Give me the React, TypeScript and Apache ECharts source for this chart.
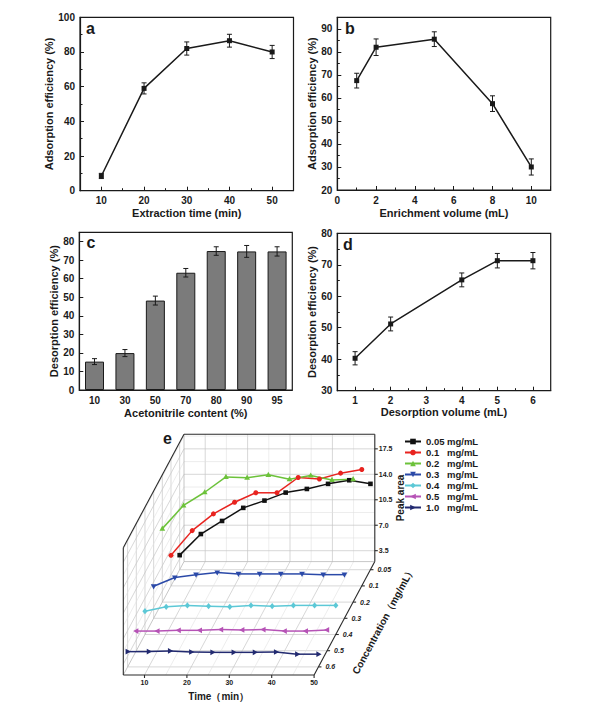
import React, { useEffect, useRef } from 'react';
import * as echarts from 'echarts';

const FONT = '"Liberation Sans", Arial, Helvetica, sans-serif';
const INK = '#1a1a1a';

// a: adsorption vs extraction time
const timeA = [10, 20, 30, 40, 50];
const adsA = [8.5, 59, 82, 86.5, 80];
const errA = [1.5, 3.2, 3.8, 3.7, 3.8];
const ticksA = [10, 20, 30, 40, 50];
const minorA = [15, 25, 35, 45];

// b: adsorption vs enrichment volume
const volB = [1, 2, 5, 8, 10];
const adsB = [67.5, 82, 85.5, 57.5, 30];
const errB = [3.2, 3.6, 3.2, 3.4, 3.5];

// c: desorption vs acetonitrile content
const acnC = ['10', '30', '50', '70', '80', '90', '95'];
const desC = [15.3, 19.9, 48.2, 63.2, 74.9, 74.7, 74.7];
const errC = [1.6, 1.9, 2.4, 2.3, 2.3, 3.2, 2.5];

// d: desorption vs desorption volume
const volD = [1, 2, 4, 5, 6];
const desD = [40.3, 51.2, 65.2, 71.3, 71.3];
const errD = [2.1, 2.2, 2.2, 2.3, 2.6];
const ticksD = [1, 2, 3, 4, 5, 6];
const minorD = [1.5, 2.5, 3.5, 4.5, 5.5];

// e: peak area vs time, one trace per concentration
const timeE = [5, 10, 15, 20, 25, 30, 35, 40, 45, 50];
const concTicks = ['0.05', '0.1', '0.2', '0.3', '0.4', '0.5', '0.6'];
const concNames = ['0.05', '0.1', '0.2', '0.3', '0.4', '0.5', '1.0'];
const peak005 = [4.0, 6.9, 8.7, 10.5, 11.5, 12.6, 13.1, 13.8, 14.3, 13.8];
const peak01 = [6.2, 9.6, 11.9, 13.5, 14.8, 14.8, 16.9, 16.7, 17.5, 18.0];
const peak02 = [12.1, 15.3, 17.1, 19.2, 19.1, 19.5, 18.9, 19.4, 18.8, 18.9];
const peak03 = [6.4, 7.6, 8.0, 8.3, 8.1, 8.1, 8.1, 8.1, 8.0, 8.0];
const peak04 = [5.2, 5.8, 6.0, 5.9, 5.8, 6.0, 5.9, 6.0, 6.0, 6.0];
const peak05 = [4.7, 4.7, 4.8, 4.8, 4.9, 4.85, 4.9, 4.7, 4.7, 4.85];
const peak10 = [4.1, 4.1, 4.2, 4.05, 4.0, 4.0, 4.0, 4.05, 3.75, 3.75];
const peakTicks = [3.5, 7.0, 10.5, 14.0, 17.5];
const timeTicksE = [10, 20, 30, 40, 50];

const peaksE = [peak005, peak01, peak02, peak03, peak04, peak05, peak10];
const colorsE = ['#111111', '#e8231f', '#6cc23a', '#2a49a8', '#5cc8d6', '#b653b6', '#222a70'];
const shapesE = ['square', 'circle', 'up', 'down', 'diamond', 'left', 'right'];
const legendSymbols = ['rect', 'circle', 'triangle', 'triangle', 'diamond', 'triangle', 'triangle'];
const legendRotate = [0, 0, 0, 180, 0, 90, -90];

// pseudo-3D box: front plane is a hidden grid, depth is a fixed screen offset
const E_TMIN = 5;
const E_TMAX = 50;
const E_ZMIN = 2;
const E_ZMAX = 19.5;
const DEPTH = [60.7, -113.4];
const depthOf = (k: number) => (concTicks.length - 0.5 - k) / concTicks.length;

const project = (api: any, t: number, z: number, f: number) => {
  const p = api.coord([t, z]);
  return [p[0] + DEPTH[0] * f, p[1] + DEPTH[1] * f];
};

const seg = (a: number[], b: number[], style: any) => ({
  type: 'line',
  silent: true,
  shape: { x1: a[0], y1: a[1], x2: b[0], y2: b[1] },
  style,
});

const txt = (x: number, y: number, text: string, o: any = {}) => ({
  type: 'text',
  x,
  y,
  rotation: o.rotation || 0,
  silent: true,
  style: {
    text,
    fill: INK,
    fontFamily: FONT,
    fontSize: o.size || 7,
    fontWeight: o.weight || 'bold',
    fontStyle: o.italic ? 'italic' : 'normal',
    align: o.align || 'center',
    verticalAlign: o.vAlign || 'middle',
  },
});

const marker = (shape: string, p: number[], color: string) => {
  const [x, y] = p;
  const s = 2.6;
  const poly = (pts: number[][]) => ({ type: 'polygon', z2: 10, shape: { points: pts }, style: { fill: color } });
  switch (shape) {
    case 'square':
      return { type: 'rect', z2: 10, shape: { x: x - 2.3, y: y - 2.3, width: 4.6, height: 4.6 }, style: { fill: color } };
    case 'circle':
      return { type: 'circle', z2: 10, shape: { cx: x, cy: y, r: 2.5 }, style: { fill: color } };
    case 'up':
      return poly([[x, y - s * 1.2], [x - s * 1.1, y + s * 0.8], [x + s * 1.1, y + s * 0.8]]);
    case 'down':
      return poly([[x, y + s * 1.2], [x - s * 1.1, y - s * 0.8], [x + s * 1.1, y - s * 0.8]]);
    case 'diamond':
      return poly([[x, y - s * 1.2], [x + s, y], [x, y + s * 1.2], [x - s, y]]);
    case 'left':
      return poly([[x - s * 1.2, y], [x + s * 0.8, y - s * 1.1], [x + s * 0.8, y + s * 1.1]]);
    default:
      return poly([[x + s * 1.2, y], [x - s * 0.8, y - s * 1.1], [x - s * 0.8, y + s * 1.1]]);
  }
};

const renderBox = (_params: any, api: any) => {
  const P = (t: number, z: number, f: number) => project(api, t, z, f);
  const els: any[] = [];
  const major = { stroke: '#c6c6c6', lineWidth: 0.7 };
  const minor = { stroke: '#e0e0e0', lineWidth: 0.6 };
  const light = { stroke: '#b8b8b8', lineWidth: 0.8 };
  const edge = { stroke: '#2a2a2a', lineWidth: 1.1 };

  const tLines = timeE.filter((t) => t > E_TMIN && t < E_TMAX);
  const zMinor = peakTicks.map((z) => z + 1.75).filter((z) => z < E_ZMAX);
  const zLines = [...zMinor.map((z) => [z, 0]), ...peakTicks.map((z) => [z, 1])];
  const tStyle = (t: number) => (timeTicksE.includes(t) ? major : minor);

  // back wall
  tLines.forEach((t) => els.push(seg(P(t, E_ZMIN, 1), P(t, E_ZMAX, 1), tStyle(t))));
  zLines.forEach(([z, m]) => els.push(seg(P(E_TMIN, z, 1), P(E_TMAX, z, 1), m ? major : minor)));
  // left wall
  concTicks.forEach((_, k) => els.push(seg(P(E_TMIN, E_ZMIN, depthOf(k)), P(E_TMIN, E_ZMAX, depthOf(k)), major)));
  zLines.forEach(([z, m]) => els.push(seg(P(E_TMIN, z, 0), P(E_TMIN, z, 1), m ? major : minor)));
  // floor
  concTicks.forEach((_, k) => els.push(seg(P(E_TMIN, E_ZMIN, depthOf(k)), P(E_TMAX, E_ZMIN, depthOf(k)), major)));
  tLines.forEach((t) => els.push(seg(P(t, E_ZMIN, 0), P(t, E_ZMIN, 1), tStyle(t))));

  // hidden edges
  els.push(seg(P(E_TMIN, E_ZMIN, 1), P(E_TMIN, E_ZMAX, 1), light));
  els.push(seg(P(E_TMIN, E_ZMIN, 1), P(E_TMAX, E_ZMIN, 1), light));
  els.push(seg(P(E_TMIN, E_ZMIN, 0), P(E_TMIN, E_ZMIN, 1), light));
  // outer edges
  els.push(seg(P(E_TMIN, E_ZMIN, 0), P(E_TMIN, E_ZMAX, 0), edge));
  els.push(seg(P(E_TMIN, E_ZMAX, 0), P(E_TMIN, E_ZMAX, 1), edge));
  els.push(seg(P(E_TMIN, E_ZMAX, 1), P(E_TMAX, E_ZMAX, 1), edge));
  els.push(seg(P(E_TMAX, E_ZMAX, 1), P(E_TMAX, E_ZMIN, 1), edge));
  els.push(seg(P(E_TMIN, E_ZMIN, 0), P(E_TMAX, E_ZMIN, 0), edge));
  els.push(seg(P(E_TMAX, E_ZMIN, 0), P(E_TMAX, E_ZMIN, 1), edge));

  // time axis
  timeTicksE.forEach((t) => {
    const p = P(t, E_ZMIN, 0);
    els.push(seg(p, [p[0], p[1] + 3], edge));
    els.push(txt(p[0], p[1] + 7.5, String(t)));
  });
  const tc = P((E_TMIN + E_TMAX) / 2, E_ZMIN, 0);
  els.push(txt(tc[0], tc[1] + 21, 'Time（min）', { size: 10 }));

  // peak area axis
  peakTicks.forEach((z) => {
    const p = P(E_TMAX, z, 1);
    els.push(seg(p, [p[0] + 3, p[1]], edge));
    els.push(txt(p[0] + 4, p[1], z.toFixed(1), { align: 'left' }));
  });
  const zc = P(E_TMAX, (E_ZMIN + E_ZMAX) / 2, 1);
  els.push(txt(zc[0] + 26, zc[1], 'Peak area', { size: 10, rotation: Math.PI / 2 }));

  // concentration axis
  concTicks.forEach((c, k) => {
    const p = P(E_TMAX, E_ZMIN, depthOf(k));
    els.push(seg(p, [p[0] + 3, p[1]], edge));
    els.push(txt(p[0] + 7, p[1], c, { align: 'left', italic: true }));
  });
  const cc = P(E_TMAX, E_ZMIN, 0.5);
  els.push(
    txt(cc[0] + 39, cc[1] + 2, 'Concentration（mg/mL）', {
      size: 10,
      rotation: Math.atan2(-DEPTH[1], DEPTH[0]),
    })
  );
  return { type: 'group', children: els };
};

const renderTrace = (k: number) => (params: any, api: any) => {
  const vals = peaksE[k];
  const f = depthOf(k);
  const j = params.dataIndex;
  const p = project(api, api.value(0), api.value(1), f);
  const children: any[] = [];
  if (j > 0) {
    children.push(seg(project(api, timeE[j - 1], vals[j - 1], f), p, { stroke: colorsE[k], lineWidth: 1.5 }));
  }
  children.push(marker(shapesE[k], p, colorsE[k]));
  return { type: 'group', children };
};

const errorBars = (xAxisIndex: number, yAxisIndex: number, xs: number[], ys: number[], errs: number[]) => ({
  type: 'custom',
  xAxisIndex,
  yAxisIndex,
  silent: true,
  z: 5,
  data: xs.map((x, i) => [x, ys[i] - errs[i], ys[i] + errs[i]]),
  renderItem: (_p: any, api: any) => {
    const lo = api.coord([api.value(0), api.value(1)]);
    const hi = api.coord([api.value(0), api.value(2)]);
    const w = 2.5;
    const style = { stroke: INK, lineWidth: 1 };
    return {
      type: 'group',
      children: [
        seg(lo, hi, style),
        seg([lo[0] - w, lo[1]], [lo[0] + w, lo[1]], style),
        seg([hi[0] - w, hi[1]], [hi[0] + w, hi[1]], style),
      ],
    };
  },
});

const labelText = { color: INK, fontSize: 10, fontWeight: 'bold', fontFamily: FONT };
const nameText = { color: INK, fontSize: 11, fontWeight: 'bold', fontFamily: FONT };
const legendText = { color: INK, fontSize: 9.5, fontWeight: 'bold', fontFamily: FONT };

const axis = (gridIndex: number, name: string, nameGap: number, extra: any = {}) => ({
  type: 'value',
  gridIndex,
  name,
  nameLocation: 'middle',
  nameGap,
  nameTextStyle: nameText,
  axisLine: { show: true, lineStyle: { color: INK, width: 1.2 } },
  axisTick: { show: true, inside: true, length: 4, lineStyle: { color: INK, width: 1 } },
  minorTick: { show: true, splitNumber: 2, length: 2.5, lineStyle: { color: INK, width: 1 } },
  axisLabel: { ...labelText, margin: 5 },
  splitLine: { show: false },
  ...extra,
});

const minorAxis = (gridIndex: number, min: number, max: number, values: number[]) => ({
  type: 'value',
  gridIndex,
  min,
  max,
  position: 'bottom',
  axisLine: { show: false },
  axisTick: { show: true, inside: true, length: 2.5, customValues: values, lineStyle: { color: INK, width: 1 } },
  axisLabel: { show: false },
  splitLine: { show: false },
});

const frame = { show: true, borderColor: INK, borderWidth: 1.2, outerBoundsMode: 'none' };

const App: React.FC = () => {
  const chartRef = useRef<HTMLDivElement | null>(null);

  useEffect(() => {
    if (!chartRef.current) return;
    const chart = echarts.init(chartRef.current, undefined, { renderer: 'svg' });

    const lineStyleMain = {
      type: 'line',
      symbol: 'rect',
      symbolSize: 5,
      itemStyle: { color: INK },
      lineStyle: { color: INK, width: 1.5 },
      z: 4,
    };

    const option: any = {
      animation: false,
      backgroundColor: '#ffffff',
      textStyle: { fontFamily: FONT },
      grid: [
        { left: 80, top: 17.3, width: 213.5, height: 173.4, ...frame },
        { left: 337.3, top: 17.3, width: 213.4, height: 172.7, ...frame },
        { left: 79.3, top: 232.3, width: 213, height: 157.7, ...frame },
        { left: 337.3, top: 233.3, width: 213.4, height: 157.4, ...frame },
        { left: 123.3, top: 547.7, width: 190.8, height: 127.3, show: false, outerBoundsMode: 'none' },
      ],
      xAxis: [
        axis(0, 'Extraction time (min)', 17, {
          min: 5,
          max: 55,
          axisTick: { show: true, inside: true, length: 4, customValues: ticksA, lineStyle: { color: INK } },
          axisLabel: { ...labelText, margin: 5, customValues: ticksA },
          minorTick: { show: false },
        }),
        minorAxis(0, 5, 55, minorA),
        axis(1, 'Enrichment volume (mL)', 17, {
          min: 0,
          max: 11,
          interval: 2,
          axisLabel: { ...labelText, margin: 5, showMaxLabel: false },
        }),
        {
          type: 'category',
          gridIndex: 2,
          data: acnC,
          name: 'Acetonitrile content (%)',
          nameLocation: 'middle',
          nameGap: 17,
          nameTextStyle: nameText,
          axisLine: { show: true, lineStyle: { color: INK, width: 1.2 } },
          axisTick: { show: false },
          axisLabel: { ...labelText, margin: 5 },
        },
        axis(3, 'Desorption volume (mL)', 16, {
          min: 0.5,
          max: 6.5,
          axisTick: { show: true, inside: true, length: 4, customValues: ticksD, lineStyle: { color: INK } },
          axisLabel: { ...labelText, margin: 5, customValues: ticksD },
          minorTick: { show: false },
        }),
        minorAxis(3, 0.5, 6.5, minorD),
        { type: 'value', gridIndex: 4, min: E_TMIN, max: E_TMAX, show: false },
      ],
      yAxis: [
        axis(0, 'Adsorption efficiency (%)', 21, { min: 0, max: 100, interval: 20 }),
        axis(1, 'Adsorption efficiency (%)', 19, {
          min: 20,
          max: 95,
          interval: 10,
          axisLabel: { ...labelText, margin: 5, showMaxLabel: false },
        }),
        axis(2, 'Desorption efficiency (%)', 19, {
          min: 0,
          max: 85,
          interval: 10,
          minorTick: { show: false },
          axisLabel: { ...labelText, margin: 5, showMaxLabel: false },
        }),
        axis(3, 'Desorption efficiency (%)', 20, { min: 30, max: 80, interval: 10 }),
        { type: 'value', gridIndex: 4, min: E_ZMIN, max: E_ZMAX, show: false },
      ],
      legend: {
        orient: 'vertical',
        align: 'left',
        left: 399,
        top: 431.5,
        padding: 5,
        itemWidth: 16,
        itemHeight: 7,
        itemGap: 1,
        data: concNames,
        formatter: (name: string) => `{v|${name}}{u|mg/mL}`,
        textStyle: {
          ...legendText,
          rich: { v: { ...legendText, width: 21 }, u: { ...legendText } },
        },
      },
      graphic: [
        { type: 'text', left: 86, top: 20, style: { text: 'a', font: `bold 16px ${FONT}`, fill: INK } },
        { type: 'text', left: 345, top: 20, style: { text: 'b', font: `bold 16px ${FONT}`, fill: INK } },
        { type: 'text', left: 86.5, top: 234, style: { text: 'c', font: `bold 16px ${FONT}`, fill: INK } },
        { type: 'text', left: 343, top: 236, style: { text: 'd', font: `bold 16px ${FONT}`, fill: INK } },
        { type: 'text', left: 163, top: 430, style: { text: 'e', font: `bold 16px ${FONT}`, fill: INK } },
      ],
      series: [
        { ...lineStyleMain, xAxisIndex: 0, yAxisIndex: 0, data: timeA.map((x, i) => [x, adsA[i]]) },
        errorBars(0, 0, timeA, adsA, errA),
        { ...lineStyleMain, xAxisIndex: 2, yAxisIndex: 1, data: volB.map((x, i) => [x, adsB[i]]) },
        errorBars(2, 1, volB, adsB, errB),
        {
          type: 'bar',
          xAxisIndex: 3,
          yAxisIndex: 2,
          data: desC,
          barWidth: 19,
          itemStyle: { color: '#7b7b7b', borderColor: INK, borderWidth: 1 },
          z: 2,
        },
        errorBars(3, 2, acnC.map((_, i) => i), desC, errC),
        { ...lineStyleMain, xAxisIndex: 4, yAxisIndex: 3, data: volD.map((x, i) => [x, desD[i]]) },
        errorBars(4, 3, volD, desD, errD),
        {
          type: 'custom',
          xAxisIndex: 6,
          yAxisIndex: 4,
          silent: true,
          z: 1,
          data: [[E_TMIN, E_ZMIN]],
          renderItem: renderBox,
        },
        ...peaksE.map((vals, k) => ({
          type: 'custom',
          xAxisIndex: 6,
          yAxisIndex: 4,
          silent: true,
          z: 3,
          data: timeE.map((t, j) => [t, vals[j]]),
          renderItem: renderTrace(k),
        })),
        ...concNames.map((name, k) => ({
          type: 'line',
          name,
          xAxisIndex: 6,
          yAxisIndex: 4,
          data: [],
          symbol: legendSymbols[k],
          symbolRotate: legendRotate[k],
          itemStyle: { color: colorsE[k] },
          lineStyle: { color: colorsE[k], width: 1.5 },
        })),
      ],
    };

    chart.setOption(option);

    return () => {
      chart.dispose();
    };
  }, []);

  return (
    <div
      ref={chartRef}
      style={{ position: 'absolute', left: 0, top: 0, width: '600px', height: '724px', background: '#fff' }}
    />
  );
};

export default App;
